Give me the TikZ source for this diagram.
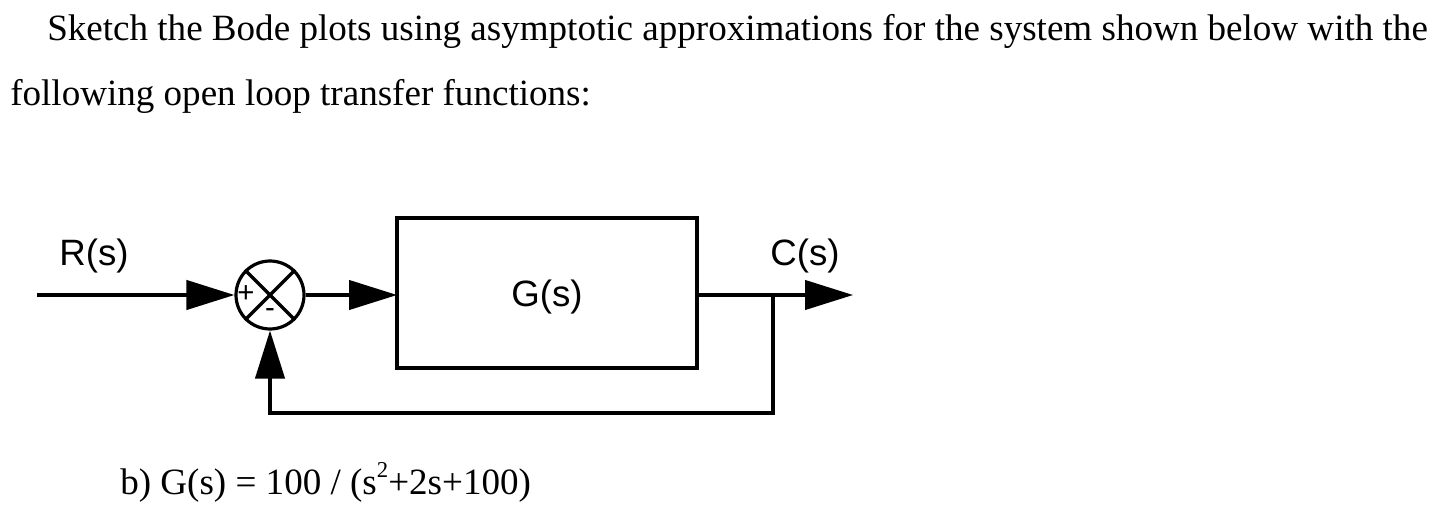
\documentclass[tikz,border=0pt]{standalone}
\usepackage{fontspec}
\setmainfont{Liberation Serif}
\newfontfamily\lsans{Liberation Sans}
\usetikzlibrary{arrows.meta}
\begin{document}
\begin{tikzpicture}[x=0.75pt,y=-0.75pt,
  wire/.style={line width=2.4pt},
  tip/.style={-{Triangle[length=36pt,width=22pt]}},
  lbl/.style={font=\lsans\fontsize{27.5}{30}\selectfont,inner sep=0pt},
  txt/.style={font=\fontsize{27.8}{32}\selectfont,inner sep=0pt,anchor=base west}]
\useasboundingbox (0,0) rectangle (1452,513);
\node[txt] (l1) at (47,41) {Sketch the Bode plots using asymptotic approximations for the system shown below with the};
\node[txt] (l2) at (10,106) {following open loop transfer functions:};
\draw[line width=3pt] (397,218) rectangle (697,368);
\node[lbl] (G) at (547,297) {G(s)};
\coordinate (Gw) at (397,295);
\coordinate (Ge) at (697,295);
\node[draw,circle,line width=2.4pt,minimum size=68*0.75pt,inner sep=0pt] (S) at (270,295) {};
\draw[line width=2.4pt] (S.45) -- (S.225) (S.135) -- (S.315);
\node[lbl,font=\lsans\fontsize{22}{24}\selectfont] (plus) at (246,294) {+};
\node[lbl,font=\lsans\fontsize{22}{24}\selectfont] (minus) at (270,313) {-};
\coordinate (in) at (37,295);
\coordinate (out) at (853,295);
\coordinate (br) at (773,295);
\coordinate (c1) at (773,413);
\coordinate (c2) at (270,413);
\draw[wire,tip] (in) -- (S.west);
\draw[wire,tip] (S.east) -- (Gw);
\draw[wire,tip] (Ge) -- (out);
\draw[wire,tip] (br) -- (c1) -- (c2) -- (S.south);
\node[lbl] (R) at (94,256) {R(s)};
\node[lbl] (C) at (805,256) {C(s)};
\node[txt] (b) at (120,494) {b) G(s) = 100 / (s\raisebox{0.45em}{\fontsize{17}{18}\selectfont 2}+2s+100)};
\end{tikzpicture}
\end{document}
